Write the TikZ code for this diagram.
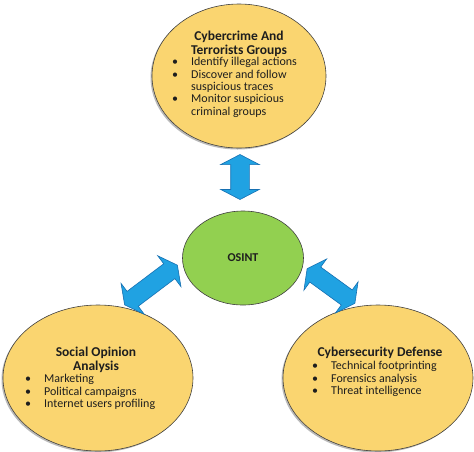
\documentclass[tikz,border=0pt]{standalone}
\usepackage{fontspec}
\setmainfont{Carlito}
\usetikzlibrary{shapes.geometric,shapes.arrows,shadows}
\definecolor{osintYellow}{RGB}{250, 213, 112}
\definecolor{osintGreen}{RGB}{146, 208, 80}
\definecolor{osintBlue}{RGB}{32, 162, 226}
\definecolor{osintEdge}{RGB}{22, 112, 178}
\definecolor{osintText}{RGB}{30, 30, 30}
\newcommand{\bitem}{\textbullet &}
\tikzset{
  bubble/.style={ellipse, draw=black!75, line width=0.6pt, fill=osintYellow,
    drop shadow={shadow xshift=-1.5pt, shadow yshift=-1.5pt, fill=black!45, opacity=.6}},
  heading/.style={font=\fontsize{13.5}{15}\selectfont\bfseries, text=osintText, align=center, inner sep=0pt},
  items/.style={font=\fontsize{12}{12.3}\selectfont, text=osintText, anchor=north west, inner sep=0pt},
  dblarrow/.style={double arrow, draw=osintEdge, fill=osintBlue, line width=0.6pt,
    double arrow head extend=10pt, double arrow tip angle=125, inner xsep=0pt, inner ysep=9pt}
}
\begin{document}
\begin{tikzpicture}[x=1pt, y=-1pt]
\useasboundingbox (0,0) rectangle (474,451);
            \node[bubble, minimum width=174pt, minimum height=144pt] (crime) at (239,76) {};
            \node[ellipse, draw=black!75, line width=0.6pt, fill=osintGreen, minimum width=121pt, minimum height=94pt] (osint) at (243,258) {};
            \node[bubble, minimum width=190pt, minimum height=146pt] (social) at (98,378) {};
            \node[bubble, minimum width=190pt, minimum height=146pt] (defense) at (378,378) {};
            \node[font=\fontsize{12}{14}\selectfont\bfseries, text=osintText] at (osint) {OSINT};
            % texts
            \node[heading] (crimeTitle) at (239,44) {Cybercrime And\\[-1pt]Terrorists Groups};
            \node[items] (crimeList) at (172,57) {\begin{tabular}{@{}l@{\hspace{13pt}}l@{}}
              \bitem Identify illegal actions\\
              \bitem Discover and follow\\
              & suspicious traces\\
              \bitem Monitor suspicious\\
              & criminal groups
            \end{tabular}};
            \node[heading] (socialTitle) at (96,360) {Social Opinion\\[-1pt]Analysis};
            \node[items] (socialList) at (25,374) {\begin{tabular}{@{}l@{\hspace{13pt}}l@{}}
              \bitem Marketing\\
              \bitem Political campaigns\\
              \bitem Internet users profiling
            \end{tabular}};
            \node[heading] (defenseTitle) at (380,353) {Cybersecurity Defense};
            \node[items] (defenseList) at (312,361) {\begin{tabular}{@{}l@{\hspace{13pt}}l@{}}
              \bitem Technical footprinting\\
              \bitem Forensics analysis\\
              \bitem Threat intelligence
            \end{tabular}};
            % arrows
            \node[dblarrow, minimum height=45pt, rotate=90] (topArrow) at (240,177) {};
            \node[dblarrow, minimum height=66pt, rotate=37] (leftArrow) at (151,285) {};
            \node[dblarrow, minimum height=59pt, rotate=-36] (rightArrow) at (331,286) {};
        \end{tikzpicture}
\end{document}
